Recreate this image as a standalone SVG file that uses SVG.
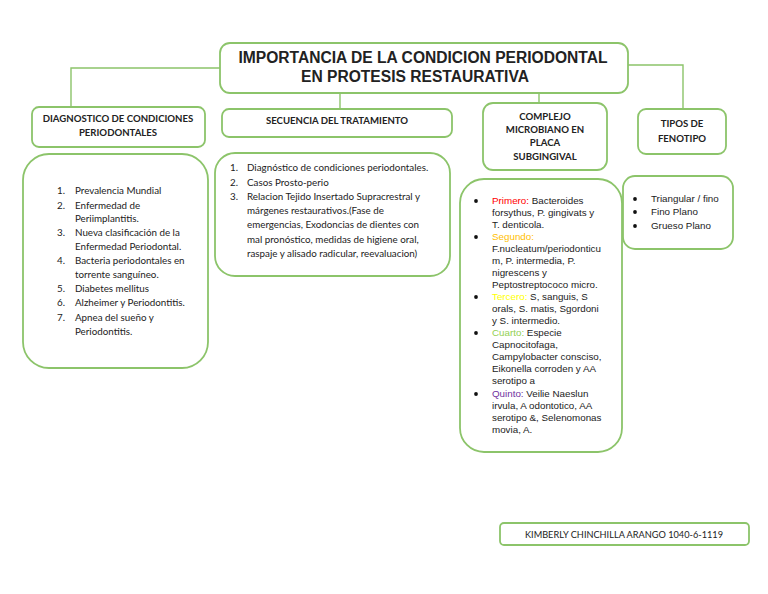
<svg xmlns="http://www.w3.org/2000/svg" width="768" height="594" viewBox="0 0 768 594">
<style>
.box{fill:#fff;stroke:#8cc46a;stroke-width:1.8}
.con{fill:none;stroke:#8cc46a;stroke-width:1.4}
.title{font-family:"Liberation Sans",Arial,sans-serif;font-weight:bold;font-size:15.6px;fill:#222;text-anchor:middle}
.hdr{font-family:Lato,"Liberation Sans",sans-serif;font-weight:bold;font-size:9.6px;fill:#222;text-anchor:middle}
.lt{font-family:Lato,"Liberation Sans",sans-serif;font-size:9.8px;fill:#222}
.ar{font-family:"Liberation Sans",Arial,sans-serif;font-size:9.8px;fill:#222}
.bu{fill:#111}
</style>
<defs><circle id="dot" r="1.9"/></defs>
<rect width="768" height="594" fill="#fff"/>
<g id="connectors">
<path class="con" d="M220 68 H71 V107"/>
<path class="con" d="M340 93 V109"/>
<path class="con" d="M539 93 V103"/>
<path class="con" d="M628 65 H683 V109"/>
</g>
<g id="title">
<rect class="box" x="220" y="43" width="408" height="50" rx="10"/>
<text class="title" x="423" y="63">IMPORTANCIA DE LA CONDICION PERIODONTAL</text>
<text class="title" x="415" y="82">EN PROTESIS RESTAURATIVA</text>
</g>
<g id="diagnostico">
<rect class="box" x="32" y="107" width="173" height="40" rx="7"/>
<text class="hdr" x="118" y="122">DIAGNOSTICO DE CONDICIONES</text>
<text class="hdr" x="118" y="136">PERIODONTALES</text>
</g>
<g id="secuencia">
<rect class="box" x="222" y="109" width="230" height="28" rx="7"/>
<text class="hdr" x="337" y="124">SECUENCIA DEL TRATAMIENTO</text>
</g>
<g id="complejo">
<rect class="box" x="483" y="103" width="124" height="67" rx="10"/>
<text class="hdr" x="545" y="120">COMPLEJO</text>
<text class="hdr" x="545" y="133">MICROBIANO EN</text>
<text class="hdr" x="545" y="146">PLACA</text>
<text class="hdr" x="545" y="160">SUBGINGIVAL</text>
</g>
<g id="tipos">
<rect class="box" x="638" y="109" width="88" height="45" rx="8"/>
<text class="hdr" x="682" y="127">TIPOS DE</text>
<text class="hdr" x="682" y="142">FENOTIPO</text>
</g>
<g id="lista-diagnostico">
<rect class="box" x="23" y="154" width="185" height="214" rx="26"/>
<g class="lt">
<text x="57" y="194">1.</text><text x="75" y="194">Prevalencia Mundial</text>
<text x="57" y="209">2.</text><text x="75" y="209">Enfermedad  de</text>
<text x="75" y="222">Periimplantitis.</text>
<text x="57" y="236">3.</text><text x="75" y="236">Nueva clasificación de la</text>
<text x="75" y="250">Enfermedad Periodontal.</text>
<text x="57" y="264">4.</text><text x="75" y="264">Bacteria periodontales en</text>
<text x="75" y="278">torrente sanguíneo.</text>
<text x="57" y="292">5.</text><text x="75" y="292">Diabetes mellitus</text>
<text x="57" y="306">6.</text><text x="75" y="306">Alzheimer y Periodontitis.</text>
<text x="57" y="321">7.</text><text x="75" y="321">Apnea del sueño y</text>
<text x="75" y="335">Periodontitis.</text>
</g>
</g>
<g id="lista-secuencia">
<rect class="box" x="215" y="153" width="235" height="123" rx="20"/>
<g class="lt">
<text x="230" y="171">1.</text><text x="247" y="171">Diagnóstico de condiciones periodontales.</text>
<text x="230" y="186">2.</text><text x="247" y="186">Casos Prosto-perio</text>
<text x="230" y="200">3.</text><text x="247" y="200">Relacion Tejido Insertado Supracrestral y</text>
<text x="247" y="214">márgenes restaurativos.(Fase de</text>
<text x="247" y="228">emergencias, Exodoncias de dientes con</text>
<text x="247" y="243">mal pronóstico, medidas de higiene oral,</text>
<text x="247" y="257">raspaje y alisado radicular, reevaluacion)</text>
</g>
</g>
<g id="lista-complejo">
<rect class="box" x="460" y="179" width="162" height="273" rx="24"/>
<g class="bu">
<use href="#dot" x="476" y="201"/>
<use href="#dot" x="476" y="237"/>
<use href="#dot" x="476" y="297"/>
<use href="#dot" x="476" y="333"/>
<use href="#dot" x="476" y="394"/>
</g>
<g class="ar">
<text x="492" y="204"><tspan fill="#ff0000">Primero:</tspan> Bacteroides</text>
<text x="492" y="216">forsythus, P. gingivats y</text>
<text x="492" y="228">T. denticola.</text>
<text x="492" y="240" fill="#ffc000">Segundo:</text>
<text x="492" y="252">F.nucleatum/periodonticu</text>
<text x="492" y="264">m, P. intermedia, P.</text>
<text x="492" y="276">nigrescens y</text>
<text x="492" y="288">Peptostreptococo micro.</text>
<text x="492" y="300"><tspan fill="#ffff00">Tercero:</tspan> S, sanguis, S</text>
<text x="492" y="312">orals, S. matis, Sgordoni</text>
<text x="492" y="324">y S. intermedio.</text>
<text x="492" y="336"><tspan fill="#92d050">Cuarto:</tspan> Especie</text>
<text x="492" y="348">Capnocitofaga,</text>
<text x="492" y="360">Campylobacter consciso,</text>
<text x="492" y="372">Eikonella corroden y AA</text>
<text x="492" y="384">serotipo a</text>
<text x="492" y="397"><tspan fill="#7030a0">Quinto:</tspan> Veilie Naeslun</text>
<text x="492" y="409">irvula, A odontotico, AA</text>
<text x="492" y="421">serotipo &amp;, Selenomonas</text>
<text x="492" y="433">movia, A.</text>
</g>
</g>
<g id="lista-tipos">
<rect class="box" x="623" y="176" width="110" height="73" rx="12"/>
<g class="bu">
<use href="#dot" x="635" y="199"/>
<use href="#dot" x="635" y="212"/>
<use href="#dot" x="635" y="226"/>
</g>
<g class="ar">
<text x="651" y="202">Triangular / fino</text>
<text x="651" y="215">Fino Plano</text>
<text x="651" y="229">Grueso Plano</text>
</g>
</g>
<g id="autor">
<rect class="box" x="500" y="523" width="249" height="22" rx="4"/>
<text class="lt" x="624" y="537.5" text-anchor="middle" style="font-size:9.2px">KIMBERLY CHINCHILLA ARANGO 1040-6-1119</text>
</g>
</svg>
